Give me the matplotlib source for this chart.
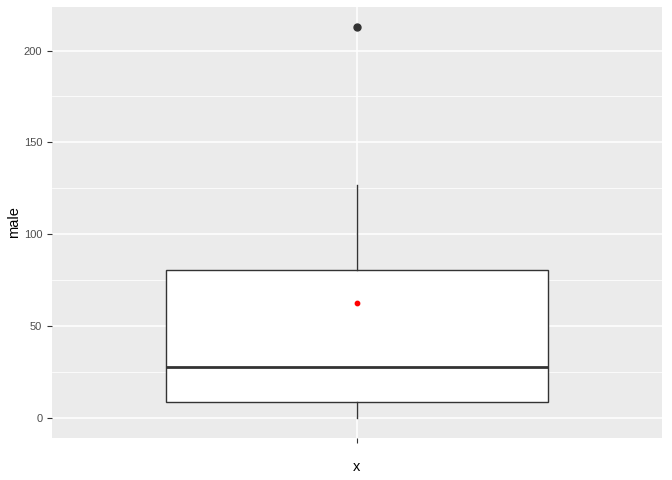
import matplotlib
matplotlib.use("Agg")
import matplotlib.pyplot as plt

# data
category = "x"
q1 = 8.7
median = 28.0
q3 = 80.8
whisker_low = 0.0
whisker_high = 126.8
mean_val = 62.5
outliers = [213.0]
y_ticks = [0, 50, 100, 150, 200]
y_minor = [25, 75, 125, 175]

plt.rcParams['font.family'] = ['Liberation Sans', 'DejaVu Sans']

fig = plt.figure(figsize=(6.72, 4.8), dpi=100)
ax = fig.add_axes([52/672, 1-438/480, 610/672, 431/480])
ax.set_facecolor('#EBEBEB')
for s in ax.spines.values():
    s.set_visible(False)

ymin = min([whisker_low] + outliers)
ymax = max([whisker_high] + outliers)
pad = (ymax - ymin) * 0.05
ax.set_ylim(ymin - pad, ymax + pad)
ax.set_xlim(0.4, 1.6)

for m in y_minor:
    ax.axhline(m, color='white', lw=0.55, zorder=0)
for t in y_ticks:
    ax.axhline(t, color='white', lw=1.1, zorder=0)
ax.axvline(1, color='white', lw=1.1, zorder=0)

stats = [dict(med=median, q1=q1, q3=q3, whislo=whisker_low, whishi=whisker_high,
              fliers=outliers, mean=mean_val, label=category)]
ax.bxp(stats, positions=[1], widths=0.75, patch_artist=True, showcaps=False,
       boxprops=dict(facecolor='white', edgecolor='#333333', linewidth=1.0),
       medianprops=dict(color='#333333', linewidth=2.0),
       whiskerprops=dict(color='#333333', linewidth=1.0),
       flierprops=dict(marker='o', markerfacecolor='#333333', markeredgecolor='#333333', markersize=5),
       showmeans=False, zorder=2)
ax.scatter([1], [mean_val], color='red', s=10, zorder=3)

ax.set_yticks(y_ticks)
ax.set_yticklabels([str(t) for t in y_ticks])
ax.set_xticks([1])
ax.set_xticklabels([''])
ax.tick_params(axis='both', colors='#333333', length=3.5, width=0.8, labelsize=8, labelcolor='#4D4D4D')
ax.set_xlabel(category, fontsize=10.5, labelpad=9)
ax.set_ylabel('male', fontsize=10.5, labelpad=2)

fig.savefig('out.png', dpi=100)
